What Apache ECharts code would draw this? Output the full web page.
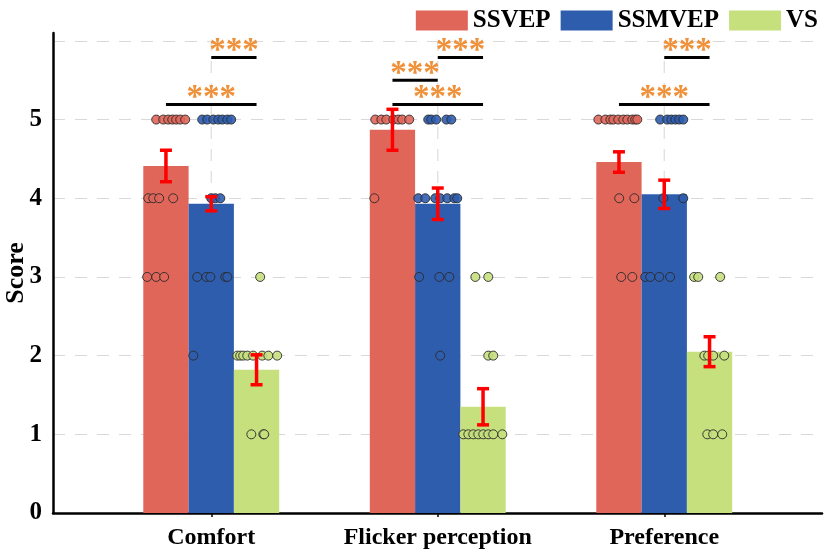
<!DOCTYPE html>
<html>
<head>
<meta charset="utf-8">
<script src="https://cdn.jsdelivr.net/npm/echarts@6/dist/echarts.min.js"></script>
<style>
  html, body { margin: 0; padding: 0; background: #fff; }
  #chart { width: 825px; height: 553px; }
</style>
</head>
<body>
<div id="chart"></div>
<script>
const categories = ['Comfort', 'Flicker perception', 'Preference']
const groups = ['SSVEP', 'SSMVEP', 'VS']
const yTicks = [0, 1, 2, 3, 4, 5]

const meanSSVEP = [4.41, 4.87, 4.46]
const meanSSMVEP = [3.93, 3.93, 4.05]
const meanVS = [1.82, 1.35, 2.05]

const seSSVEP = [0.2, 0.26, 0.13]
const seSSMVEP = [0.09, 0.2, 0.18]
const seVS = [0.19, 0.23, 0.19]

// [category, jitter offset from category centre, score]
const dotsSSVEP = [
  [0, -0.243, 5], [0, -0.212, 5], [0, -0.19, 5], [0, -0.172, 5], [0, -0.155, 5], [0, -0.137, 5], [0, -0.115, 5],
  [0, -0.278, 4], [0, -0.256, 4], [0, -0.23, 4], [0, -0.168, 4],
  [0, -0.283, 3], [0, -0.243, 3], [0, -0.208, 3],
  [1, -0.276, 5], [1, -0.249, 5], [1, -0.227, 5], [1, -0.196, 5], [1, -0.174, 5], [1, -0.157, 5], [1, -0.126, 5],
  [1, -0.28, 4],
  [2, -0.291, 5], [2, -0.26, 5], [2, -0.238, 5], [2, -0.225, 5], [2, -0.203, 5], [2, -0.181, 5], [2, -0.163, 5],
  [2, -0.141, 5], [2, -0.128, 5], [2, -0.119, 5],
  [2, -0.199, 4], [2, -0.132, 4],
  [2, -0.19, 3], [2, -0.141, 3],
]
const dotsSSMVEP = [
  [0, -0.04, 5], [0, -0.018, 5], [0, 0.009, 5], [0, 0.031, 5], [0, 0.049, 5], [0, 0.071, 5], [0, 0.088, 5],
  [0, 0.0, 4], [0, 0.018, 4], [0, 0.04, 4],
  [0, -0.062, 3], [0, -0.022, 3], [0, -0.004, 3], [0, 0.062, 3], [0, 0.071, 3],
  [0, -0.079, 2],
  [1, -0.042, 5], [1, -0.029, 5], [1, -0.007, 5], [1, 0.038, 5], [1, 0.06, 5],
  [1, -0.086, 4], [1, -0.055, 4], [1, -0.011, 4], [1, 0.011, 4], [1, 0.042, 4], [1, 0.073, 4], [1, 0.086, 4],
  [1, -0.082, 3], [1, 0.007, 3], [1, 0.051, 3],
  [1, 0.011, 2],
  [2, -0.018, 5], [2, 0.013, 5], [2, 0.031, 5], [2, 0.049, 5], [2, 0.066, 5], [2, 0.084, 5],
  [2, -0.004, 4], [2, 0.084, 4],
  [2, -0.084, 3], [2, -0.062, 3], [2, -0.022, 3], [2, 0.026, 3],
]
const dotsVS = [
  [0, 0.216, 3],
  [0, 0.115, 2], [0, 0.128, 2], [0, 0.141, 2], [0, 0.159, 2], [0, 0.185, 2], [0, 0.225, 2], [0, 0.252, 2], [0, 0.291, 2],
  [0, 0.177, 1], [0, 0.23, 1], [0, 0.234, 1],
  [1, 0.166, 3], [1, 0.223, 3],
  [1, 0.223, 2], [1, 0.245, 2],
  [1, 0.113, 1], [1, 0.135, 1], [1, 0.157, 1], [1, 0.179, 1], [1, 0.201, 1], [1, 0.223, 1], [1, 0.245, 1], [1, 0.285, 1],
  [2, 0.132, 3], [2, 0.15, 3], [2, 0.247, 3],
  [2, 0.177, 2], [2, 0.194, 2], [2, 0.216, 2], [2, 0.265, 2],
  [2, 0.19, 1], [2, 0.216, 1], [2, 0.256, 1],
]

// [category, group a, group b, bracket height, label]
const sigPairs = [
  [0, 1, 2, 5.79, '***'],
  [0, 0, 2, 5.19, '***'],
  [1, 1, 2, 5.79, '***'],
  [1, 0, 1, 5.5, '***'],
  [1, 0, 2, 5.19, '***'],
  [2, 1, 2, 5.79, '***'],
  [2, 0, 2, 5.19, '***'],
]

const colors = ['#E0665A', '#2F5DAE', '#C6E07E']
const means = [meanSSVEP, meanSSMVEP, meanVS]
const ses = [seSSVEP, seSSMVEP, seVS]
const dots = [dotsSSVEP, dotsSSMVEP, dotsVS]
const barFrac = 0.2 // barWidth 20% of the band
const font = '"Liberation Serif", "Times New Roman", serif'

const chart = echarts.init(document.getElementById('chart'))

const series = []

// dashed vertical guides at category centres
series.push({
  type: 'custom',
  xAxisIndex: 2,
  yAxisIndex: 1,
  z: 1,
  silent: true,
  data: categories.map((c, i) => [i]),
  renderItem: (params, api) => {
    const p0 = api.coord([api.value(0), 0])
    const p1 = api.coord([api.value(0), 6])
    return {
      type: 'line',
      shape: { x1: p0[0], y1: p0[1], x2: p1[0], y2: p1[1] },
      style: { stroke: '#dcdcdc', lineWidth: 1.2, lineDash: [12, 10] },
    }
  },
})

groups.forEach((g, gi) => {
  series.push({
    name: g,
    type: 'bar',
    xAxisIndex: 1,
    yAxisIndex: 1,
    barWidth: '20%',
    barGap: '0%',
    z: 2,
    itemStyle: { color: colors[gi] },
    data: means[gi],
  })
})

groups.forEach((g, gi) => {
  series.push({
    name: g + ' points',
    type: 'scatter',
    xAxisIndex: 2,
    yAxisIndex: 1,
    z: 3,
    symbolSize: 9,
    itemStyle: { color: colors[gi], opacity: 0.9, borderColor: '#2a2a2a', borderWidth: 1 },
    data: dots[gi].map(d => [d[0] + d[1], d[2]]),
  })
})

// error bars
const errData = []
groups.forEach((g, gi) => {
  categories.forEach((c, ci) => {
    const x = ci + (gi - 1) * barFrac
    errData.push([x, means[gi][ci] - ses[gi][ci], means[gi][ci] + ses[gi][ci]])
  })
})
series.push({
  type: 'custom',
  xAxisIndex: 2,
  yAxisIndex: 1,
  z: 4,
  data: errData,
  renderItem: (params, api) => {
    const lo = api.coord([api.value(0), api.value(1)])
    const hi = api.coord([api.value(0), api.value(2)])
    const w = 6
    const st = { stroke: '#FF0000', lineWidth: 3.5 }
    return {
      type: 'group',
      children: [
        { type: 'line', shape: { x1: lo[0], y1: lo[1], x2: hi[0], y2: hi[1] }, style: st },
        { type: 'line', shape: { x1: lo[0] - w, y1: lo[1], x2: lo[0] + w, y2: lo[1] }, style: st },
        { type: 'line', shape: { x1: hi[0] - w, y1: hi[1], x2: hi[0] + w, y2: hi[1] }, style: st },
      ],
    }
  },
})

// significance brackets
series.push({
  type: 'custom',
  xAxisIndex: 2,
  yAxisIndex: 1,
  z: 5,
  data: sigPairs.map(s => [s[0] + (s[1] - 1) * barFrac, s[0] + (s[2] - 1) * barFrac, s[3]]),
  renderItem: (params, api) => {
    const a = api.coord([api.value(0), api.value(2)])
    const b = api.coord([api.value(1), api.value(2)])
    return {
      type: 'group',
      children: [
        {
          type: 'line',
          shape: { x1: a[0], y1: a[1], x2: b[0], y2: b[1] },
          style: { stroke: '#000', lineWidth: 3 },
        },
        {
          type: 'text',
          style: {
            text: sigPairs[params.dataIndex][4],
            x: (a[0] + b[0]) / 2,
            y: a[1] - 6,
            align: 'center',
            verticalAlign: 'middle',
            fill: '#F0913A',
            font: 'bold 33px ' + font,
          },
        },
      ],
    }
  },
})

chart.setOption({
  animation: false,
  legend: {
    data: groups,
    top: 3,
    right: 2,
    icon: 'rect',
    itemWidth: 52,
    itemHeight: 20,
    itemGap: 10,
    textStyle: { fontFamily: font, fontWeight: 'bold', fontSize: 25, color: '#000' },
  },
  grid: [
    { left: 53, right: 3, top: 33, bottom: 40, outerBoundsMode: 'none', containLabel: false },
    { left: 98, right: 47.5, top: 33, bottom: 40, outerBoundsMode: 'none', containLabel: false },
  ],
  xAxis: [
    {
      gridIndex: 0,
      type: 'value',
      min: 0,
      max: 1,
      axisLine: { show: true, lineStyle: { color: '#000', width: 2.5 } },
      axisTick: { show: false },
      axisLabel: { show: false },
      splitLine: { show: false },
    },
    {
      gridIndex: 1,
      type: 'category',
      data: categories,
      axisLine: { show: false },
      axisTick: { show: true, alignWithLabel: true, length: 4, lineStyle: { color: '#000', width: 1.5 } },
      axisLabel: { interval: 0, margin: 13, color: '#000', fontFamily: font, fontWeight: 'bold', fontSize: 24 },
      splitLine: { show: false },
    },
    {
      gridIndex: 1,
      type: 'value',
      min: -0.5,
      max: 2.5,
      show: false,
    },
  ],
  yAxis: [
    {
      gridIndex: 0,
      type: 'value',
      min: 0,
      max: 6.1,
      interval: 1,
      name: 'Score',
      nameLocation: 'middle',
      nameGap: 24,
      nameMoveOverlap: false,
      nameTextStyle: { fontFamily: font, fontWeight: 'bold', fontSize: 26, color: '#000' },
      axisLine: { show: true, lineStyle: { color: '#000', width: 2.5 } },
      axisTick: { show: false },
      axisLabel: {
        margin: 11,
        color: '#000',
        fontFamily: font,
        fontWeight: 'bold',
        fontSize: 25,
        formatter: v => (yTicks.indexOf(v) >= 0 ? String(v) : ''),
      },
      splitLine: {
        show: true,
        showMinLine: false,
        showMaxLine: false,
        lineStyle: { color: '#d9d9d9', width: 1.2, type: [12, 10] },
      },
    },
    {
      gridIndex: 1,
      type: 'value',
      min: 0,
      max: 6.1,
      show: false,
    },
  ],
  series: series,
})
</script>
</body>
</html>
